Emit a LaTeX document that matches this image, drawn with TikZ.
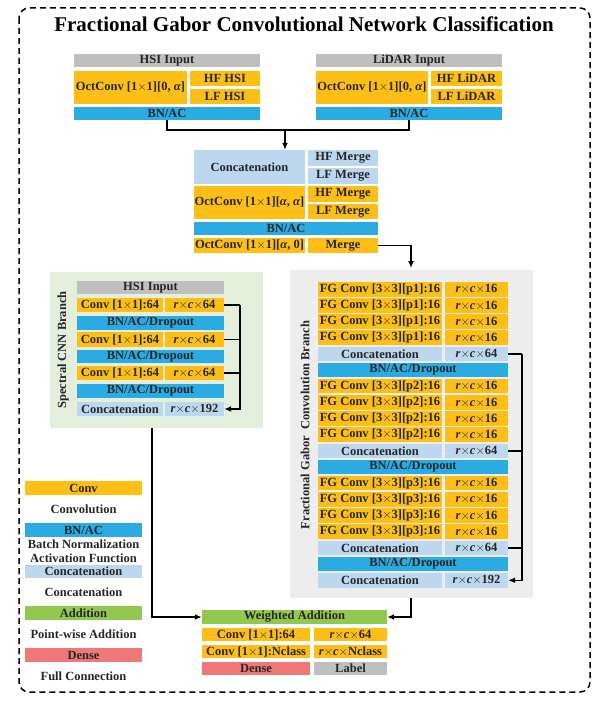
\documentclass[tikz,border=0pt]{standalone}
\usepackage{fontspec}
\setmainfont{Liberation Serif}
\usetikzlibrary{arrows.meta}
\definecolor{convc}{HTML}{FDBE15}
\definecolor{bnc}{HTML}{2AABE2}
\definecolor{catc}{HTML}{BDD7EE}
\definecolor{inc}{HTML}{BFBFBF}
\definecolor{addc}{HTML}{92C84F}
\definecolor{densec}{HTML}{F07878}
\definecolor{greenpanel}{HTML}{E3EFDA}
\definecolor{graypanel}{HTML}{EDEDED}
\tikzset{
  box/.style={inner sep=0pt, font=\fontsize{12.5}{13}\selectfont\bfseries, text=black!85},
  conv/.style={box, fill=convc},
  bn/.style={box, fill=bnc},
  cat/.style={box, fill=catc},
  inp/.style={box, fill=inc},
  add/.style={box, fill=addc},
  dense/.style={box, fill=densec},
  txt/.style={box},
  link/.style={-{Latex[length=7pt,width=6pt]}, line width=1.5pt},
}
% block from (x1,y1) to (x2,y2)
\newcommand{\blk}[7]{\node[#6, minimum width={(#4-#2)*1pt}, minimum height={(#5-#3)*1pt}] (#1) at ({(#2+#4)/2},{(#3+#5)/2}) {#7};}
\newcommand{\rc}[1]{\textit{r}$\times$\textit{c}$\times$#1}
\begin{document}
\begin{tikzpicture}[x=1pt, y=-1pt]
    \useasboundingbox (0,0) rectangle (601,701);
    \draw[dash pattern=on 6pt off 4pt, line width=1.5pt, rounded corners=10pt] (19,8) rectangle (590,692);
    \node[font=\fontsize{21}{22}\selectfont\bfseries] (title) at (304,24) {Fractional Gabor Convolutional Network Classification};

    % inputs
    \blk{hsiin}{74}{54}{260}{67}{inp}{HSI Input}
    \blk{hsioct}{74}{71}{187}{104}{conv}{OctConv [1$\times$1][0, \textit{α}]}
    \blk{hfhsi}{190}{71}{260}{86}{conv}{HF HSI}
    \blk{lfhsi}{190}{89}{260}{104}{conv}{LF HSI}
    \blk{hsibn}{74}{107}{260}{120}{bn}{BN/AC}
    \blk{lidin}{316}{54}{502}{67}{inp}{LiDAR Input}
    \blk{lidoct}{316}{71}{428}{104}{conv}{OctConv [1$\times$1][0, \textit{α}]}
    \blk{hflid}{431}{71}{502}{86}{conv}{HF LiDAR}
    \blk{lflid}{431}{89}{502}{104}{conv}{LF LiDAR}
    \blk{lidbn}{316}{107}{502}{120}{bn}{BN/AC}

    % merge block
    \blk{mcat}{194}{150}{305}{184}{cat}{Concatenation}
    \blk{hfm1}{308}{150}{378}{166}{cat}{HF Merge}
    \blk{lfm1}{308}{168}{378}{184}{cat}{LF Merge}
    \blk{moct}{194}{186}{305}{219}{conv}{OctConv [1$\times$1][\textit{α}, \textit{α}]}
    \blk{hfm2}{308}{186}{378}{202}{conv}{HF Merge}
    \blk{lfm2}{308}{204}{378}{219}{conv}{LF Merge}
    \blk{mbn}{194}{222}{378}{235}{bn}{BN/AC}
    \blk{moct0}{194}{238}{305}{253}{conv}{OctConv [1$\times$1][\textit{α}, 0]}
    \blk{merge}{308}{238}{378}{253}{conv}{Merge}

    \coordinate (join) at (285,130);
    \draw[line width=1.5pt] (hsibn.south) |- (join) -| (lidbn.south);
    \draw[link] (join) -- (join |- mcat.north);

    % spectral branch
    \fill[greenpanel] (50,272) rectangle (263,428);
    \node[box, rotate=90] (spec) at (63,350) {Spectral CNN Branch};
    \blk{sin}{77}{281}{224}{294}{inp}{HSI Input}
    \blk{sc1}{77}{298}{163}{312}{conv}{Conv [1$\times$1]:64}
    \blk{sd1}{165}{298}{224}{312}{conv}{\rc{64}}
    \blk{sb1}{77}{316}{224}{330}{bn}{BN/AC/Dropout}
    \blk{sc2}{77}{332}{163}{347}{conv}{Conv [1$\times$1]:64}
    \blk{sd2}{165}{332}{224}{347}{conv}{\rc{64}}
    \blk{sb2}{77}{350}{224}{363}{bn}{BN/AC/Dropout}
    \blk{sc3}{77}{366}{163}{380}{conv}{Conv [1$\times$1]:64}
    \blk{sd3}{165}{366}{224}{380}{conv}{\rc{64}}
    \blk{sb3}{77}{384}{224}{398}{bn}{BN/AC/Dropout}
    \blk{scat}{77}{402}{163}{416}{cat}{Concatenation}
    \blk{sdim}{165}{402}{224}{416}{cat}{\rc{192}}
    \draw[line width=1.5pt] (sd1.east) -- ++(16,0) coordinate (sbar);
    \draw[line width=1.5pt] (sd2.east) -- (sd2.east -| sbar);
    \draw[line width=1.5pt] (sd3.east) -- (sd3.east -| sbar);
    \draw[link] (sbar) |- (sdim.east);

    % fractional gabor branch
    \fill[graypanel] (290,270) rectangle (533,598);
    \node[box, rotate=90] (fgl) at (305,425) {Fractional Gabor\ \ Convolution Branch};
    \draw[link] (merge.east) -| (411,268);
    \foreach \p in {1,2,3} {
        \pgfmathsetmacro{\ybase}{282+(\p-1)*6*16.16}
        \foreach \k in {0,...,3} {
            \pgfmathsetmacro{\ya}{\ybase+\k*16.16}
            \pgfmathsetmacro{\yb}{\ya+14.5}
            \blk{fg\p\k}{318}{\ya}{442}{\yb}{conv}{FG Conv [3$\times$3][p\p]:16}
            \blk{fd\p\k}{445}{\ya}{508}{\yb}{conv}{\rc{16}}
        }
        \pgfmathsetmacro{\ya}{\ybase+4*16.16}
        \pgfmathsetmacro{\yb}{\ya+14.5}
        \blk{fcat\p}{318}{\ya}{442}{\yb}{cat}{Concatenation}
        \blk{fdim\p}{445}{\ya}{508}{\yb}{cat}{\rc{64}}
        \pgfmathsetmacro{\ya}{\ybase+5*16.16}
        \pgfmathsetmacro{\yb}{\ya+14.5}
        \blk{fbn\p}{318}{\ya}{508}{\yb}{bn}{BN/AC/Dropout}
    }
    \blk{fcat}{318}{573}{442}{587.5}{cat}{Concatenation}
    \blk{fdim}{445}{573}{508}{587.5}{cat}{\rc{192}}
    \draw[line width=1.5pt] (fdim1.east) -- ++(14,0) coordinate (fbar);
    \draw[line width=1.5pt] (fdim2.east) -- (fdim2.east -| fbar);
    \draw[line width=1.5pt] (fdim3.east) -- (fdim3.east -| fbar);
    \draw[link] (fbar) |- (fdim.east);

    % output
    \blk{wadd}{202}{610}{387}{624}{add}{Weighted Addition}
    \blk{oc1}{202}{628}{310}{641}{conv}{Conv [1$\times$1]:64}
    \blk{od1}{314}{628}{387}{641}{conv}{\rc{64}}
    \blk{oc2}{202}{645}{310}{658}{conv}{Conv [1$\times$1]:Nclass}
    \blk{od2}{314}{645}{387}{658}{conv}{\rc{Nclass}}
    \blk{odense}{202}{662}{310}{675}{dense}{Dense}
    \blk{olabel}{314}{662}{387}{675}{inp}{Label}
    \draw[link] (152,428) |- (wadd.west);
    \draw[link] (411,598) |- (wadd.east);

    % legend
    \blk{lconv}{25}{481}{142}{495}{conv}{Conv}
    \node[txt] (tconv) at (83.5,509) {Convolution};
    \blk{lbn}{25}{523}{142}{537}{bn}{BN/AC}
    \node[txt, align=center] (tbn) at (83.5,551) {Batch Normalization\\[1pt]Activation Function};
    \blk{lcat}{25}{565}{142}{578}{cat}{Concatenation}
    \node[txt] (tcat) at (83.5,592) {Concatenation};
    \blk{ladd}{25}{606}{142}{620}{add}{Addition}
    \node[txt] (tadd) at (83.5,634) {Point-wise Addition};
    \blk{ldense}{25}{648}{142}{662}{dense}{Dense}
    \node[txt] (tdense) at (83.5,676) {Full Connection};
\end{tikzpicture}
\end{document}
